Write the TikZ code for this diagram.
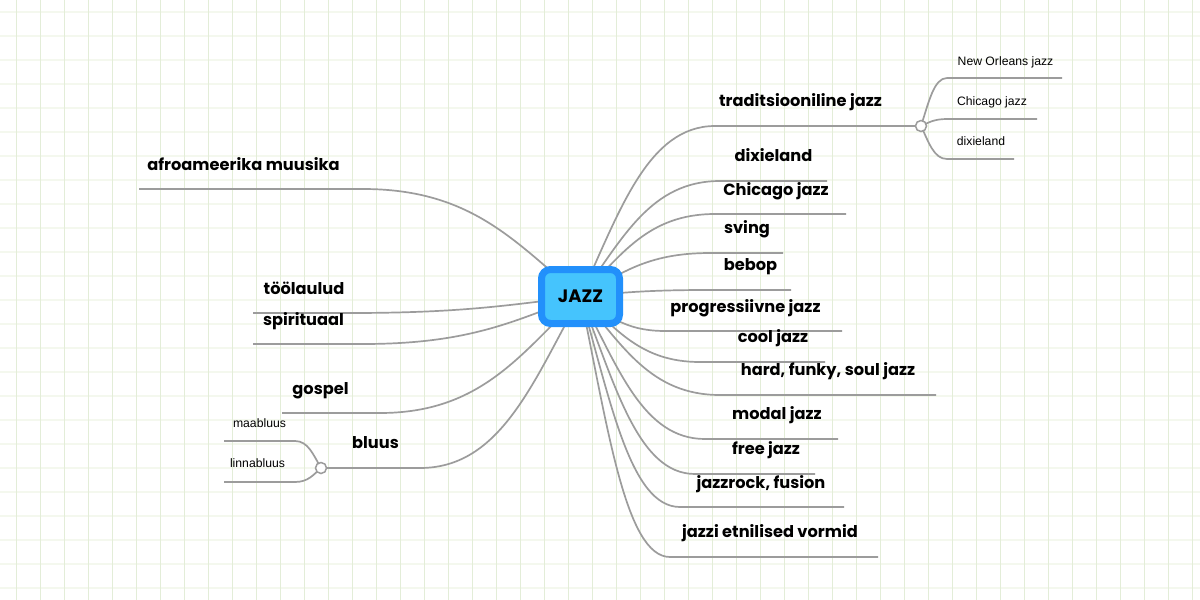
\documentclass[tikz,border=0pt]{standalone}
\usepackage{fontspec}
\setmainfont{Poppins}
\newfontfamily\smallfont{Liberation Sans}
\pgfdeclarelayer{grid}
\pgfdeclarelayer{background}
\pgfsetlayers{grid,background,main}
\definecolor{gridv}{HTML}{E3EDD8}
\definecolor{gridh}{HTML}{F4F8EE}
\definecolor{linec}{HTML}{9C9C9C}
\definecolor{jazzout}{HTML}{2290FB}
\definecolor{jazzin}{HTML}{45C4FD}
\tikzset{
  branch/.style={draw=linec, line width=1.7pt},
  topic/.style={font=\bfseries\fontsize{16.2}{18}\selectfont, inner sep=0pt, anchor=base},
  subtopic/.style={font=\smallfont\fontsize{12.2}{14}\selectfont, inner sep=0pt, anchor=base},
  knob/.style={circle, draw=linec, line width=1.5pt, fill=white, minimum size=11pt, inner sep=0pt},
  central/.style={draw=jazzout, fill=jazzin, line width=7pt, rounded corners=9pt,
     minimum width=78pt, minimum height=54pt, inner sep=0pt,
     font=\bfseries\fontsize{18}{20}\selectfont}
}
% #1 name, #2 xs, #3 y, #4 xe
\newcommand\mybranch[4]{%
  \coordinate (#1s) at (#2,#3);
  \coordinate (#1e) at (#4,#3);
  \draw[branch] (jazz.center) .. controls (581+0.3*#2-0.3*581, 296+0.5*#3-0.5*296) and (0.5*#2+0.5*581, #3) .. (#1s) -- (#1e);
}
\begin{document}
\begin{tikzpicture}[x=1pt,y=-1pt]
\useasboundingbox (0,0) rectangle (1200,600);
\begin{pgfonlayer}{grid}
  \fill[white] (0,0) rectangle (1200,600);
  \foreach \i in {0,...,49} \draw[gridh, line width=1.6pt] (0,12+24*\i) -- (1200,12+24*\i);
  \foreach \i in {0,...,49} \draw[gridv, line width=1pt] (16+24*\i,0) -- (16+24*\i,600);
\end{pgfonlayer}

\node[central] (jazz) at (580.5,296.5) {JAZZ};
\node[knob] (tk) at (921,126) {};
\node[knob] (bk) at (321,468) {};

\begin{pgfonlayer}{background}
  % right side
  \coordinate (trads) at (715,126);
  \draw[branch] (jazz.center) .. controls (619.7,211) and (648,126) .. (trads) -- (tk.center);
  \mybranch{dix}{720}{181}{827}
  \mybranch{chi}{715}{214}{846}
  \mybranch{svi}{710}{253}{783}
  \mybranch{beb}{707}{290}{791}
  \mybranch{pro}{665}{331}{842}
  \mybranch{coo}{700}{362}{825}
  \mybranch{har}{720}{395}{936}
  \mybranch{mod}{705}{439}{838}
  \mybranch{fre}{695}{474}{815}
  \mybranch{jro}{680}{507}{844}
  \mybranch{etn}{670}{557}{878}
  % left side
  \mybranch{afr}{363}{189}{139}
  \mybranch{too}{350}{313}{253}
  \mybranch{spi}{363}{344}{253}
  \mybranch{gos}{380}{413}{282}
  \coordinate (blus) at (420,468);
  \draw[branch] (jazz.center) .. controls (533,382) and (500.5,468) .. (blus) -- (bk.center);
  % sub branches of traditsiooniline jazz
  \coordinate (nos) at (947,78);  \coordinate (noe) at (1062,78);
  \coordinate (cjs) at (947,119); \coordinate (cje) at (1037,119);
  \coordinate (dxs) at (947,159); \coordinate (dxe) at (1014,159);
  \draw[branch] (tk.center) .. controls (928.8,102) and (934,78) .. (nos) -- (noe);
  \draw[branch] (tk.center) .. controls (928.8,122.5) and (934,119) .. (cjs) -- (cje);
  \draw[branch] (tk.center) .. controls (928.8,142.5) and (934,159) .. (dxs) -- (dxe);
  % sub branches of bluus
  \coordinate (mbs) at (295,441); \coordinate (mbe) at (224,441);
  \coordinate (lbs) at (295,482); \coordinate (lbe) at (224,482);
  \draw[branch] (bk.center) .. controls (313.2,454.5) and (308,441) .. (mbs) -- (mbe);
  \draw[branch] (bk.center) .. controls (313.2,475) and (308,482) .. (lbs) -- (lbe);
\end{pgfonlayer}

% right labels
\node[topic] (t1) at (800.5,106) {traditsiooniline jazz};
\node[topic] (t2) at (773.5,161) {dixieland};
\node[topic] (t3) at (776,195) {Chicago jazz};
\node[topic] (t4) at (747,233) {sving};
\node[topic] (t5) at (750.5,270) {bebop};
\node[topic] (t6) at (745.5,312) {progressiivne jazz};
\node[topic] (t7) at (773,342) {cool jazz};
\node[topic] (t8) at (828,375) {hard, funky, soul jazz};
\node[topic] (t9) at (777,419) {modal jazz};
\node[topic] (t10) at (766,454) {free jazz};
\node[topic] (t11) at (761,488) {jazzrock, fusion};
\node[topic] (t12) at (770,537) {jazzi etnilised vormid};
% left labels
\node[topic] (l1) at (243.5,170) {afroameerika muusika};
\node[topic] (l2) at (304,294) {töölaulud};
\node[topic] (l3) at (303.5,325) {spirituaal};
\node[topic] (l4) at (320.5,394) {gospel};
\node[topic] (l5) at (375.5,448) {bluus};
% small labels
\node[subtopic] (s1) at (1005.5,65) {New Orleans jazz};
\node[subtopic] (s2) at (992,105) {Chicago jazz};
\node[subtopic] (s3) at (981,145) {dixieland};
\node[subtopic] (s4) at (259.5,427) {maabluus};
\node[subtopic] (s5) at (257.5,467) {linnabluus};
\end{tikzpicture}
\end{document}
